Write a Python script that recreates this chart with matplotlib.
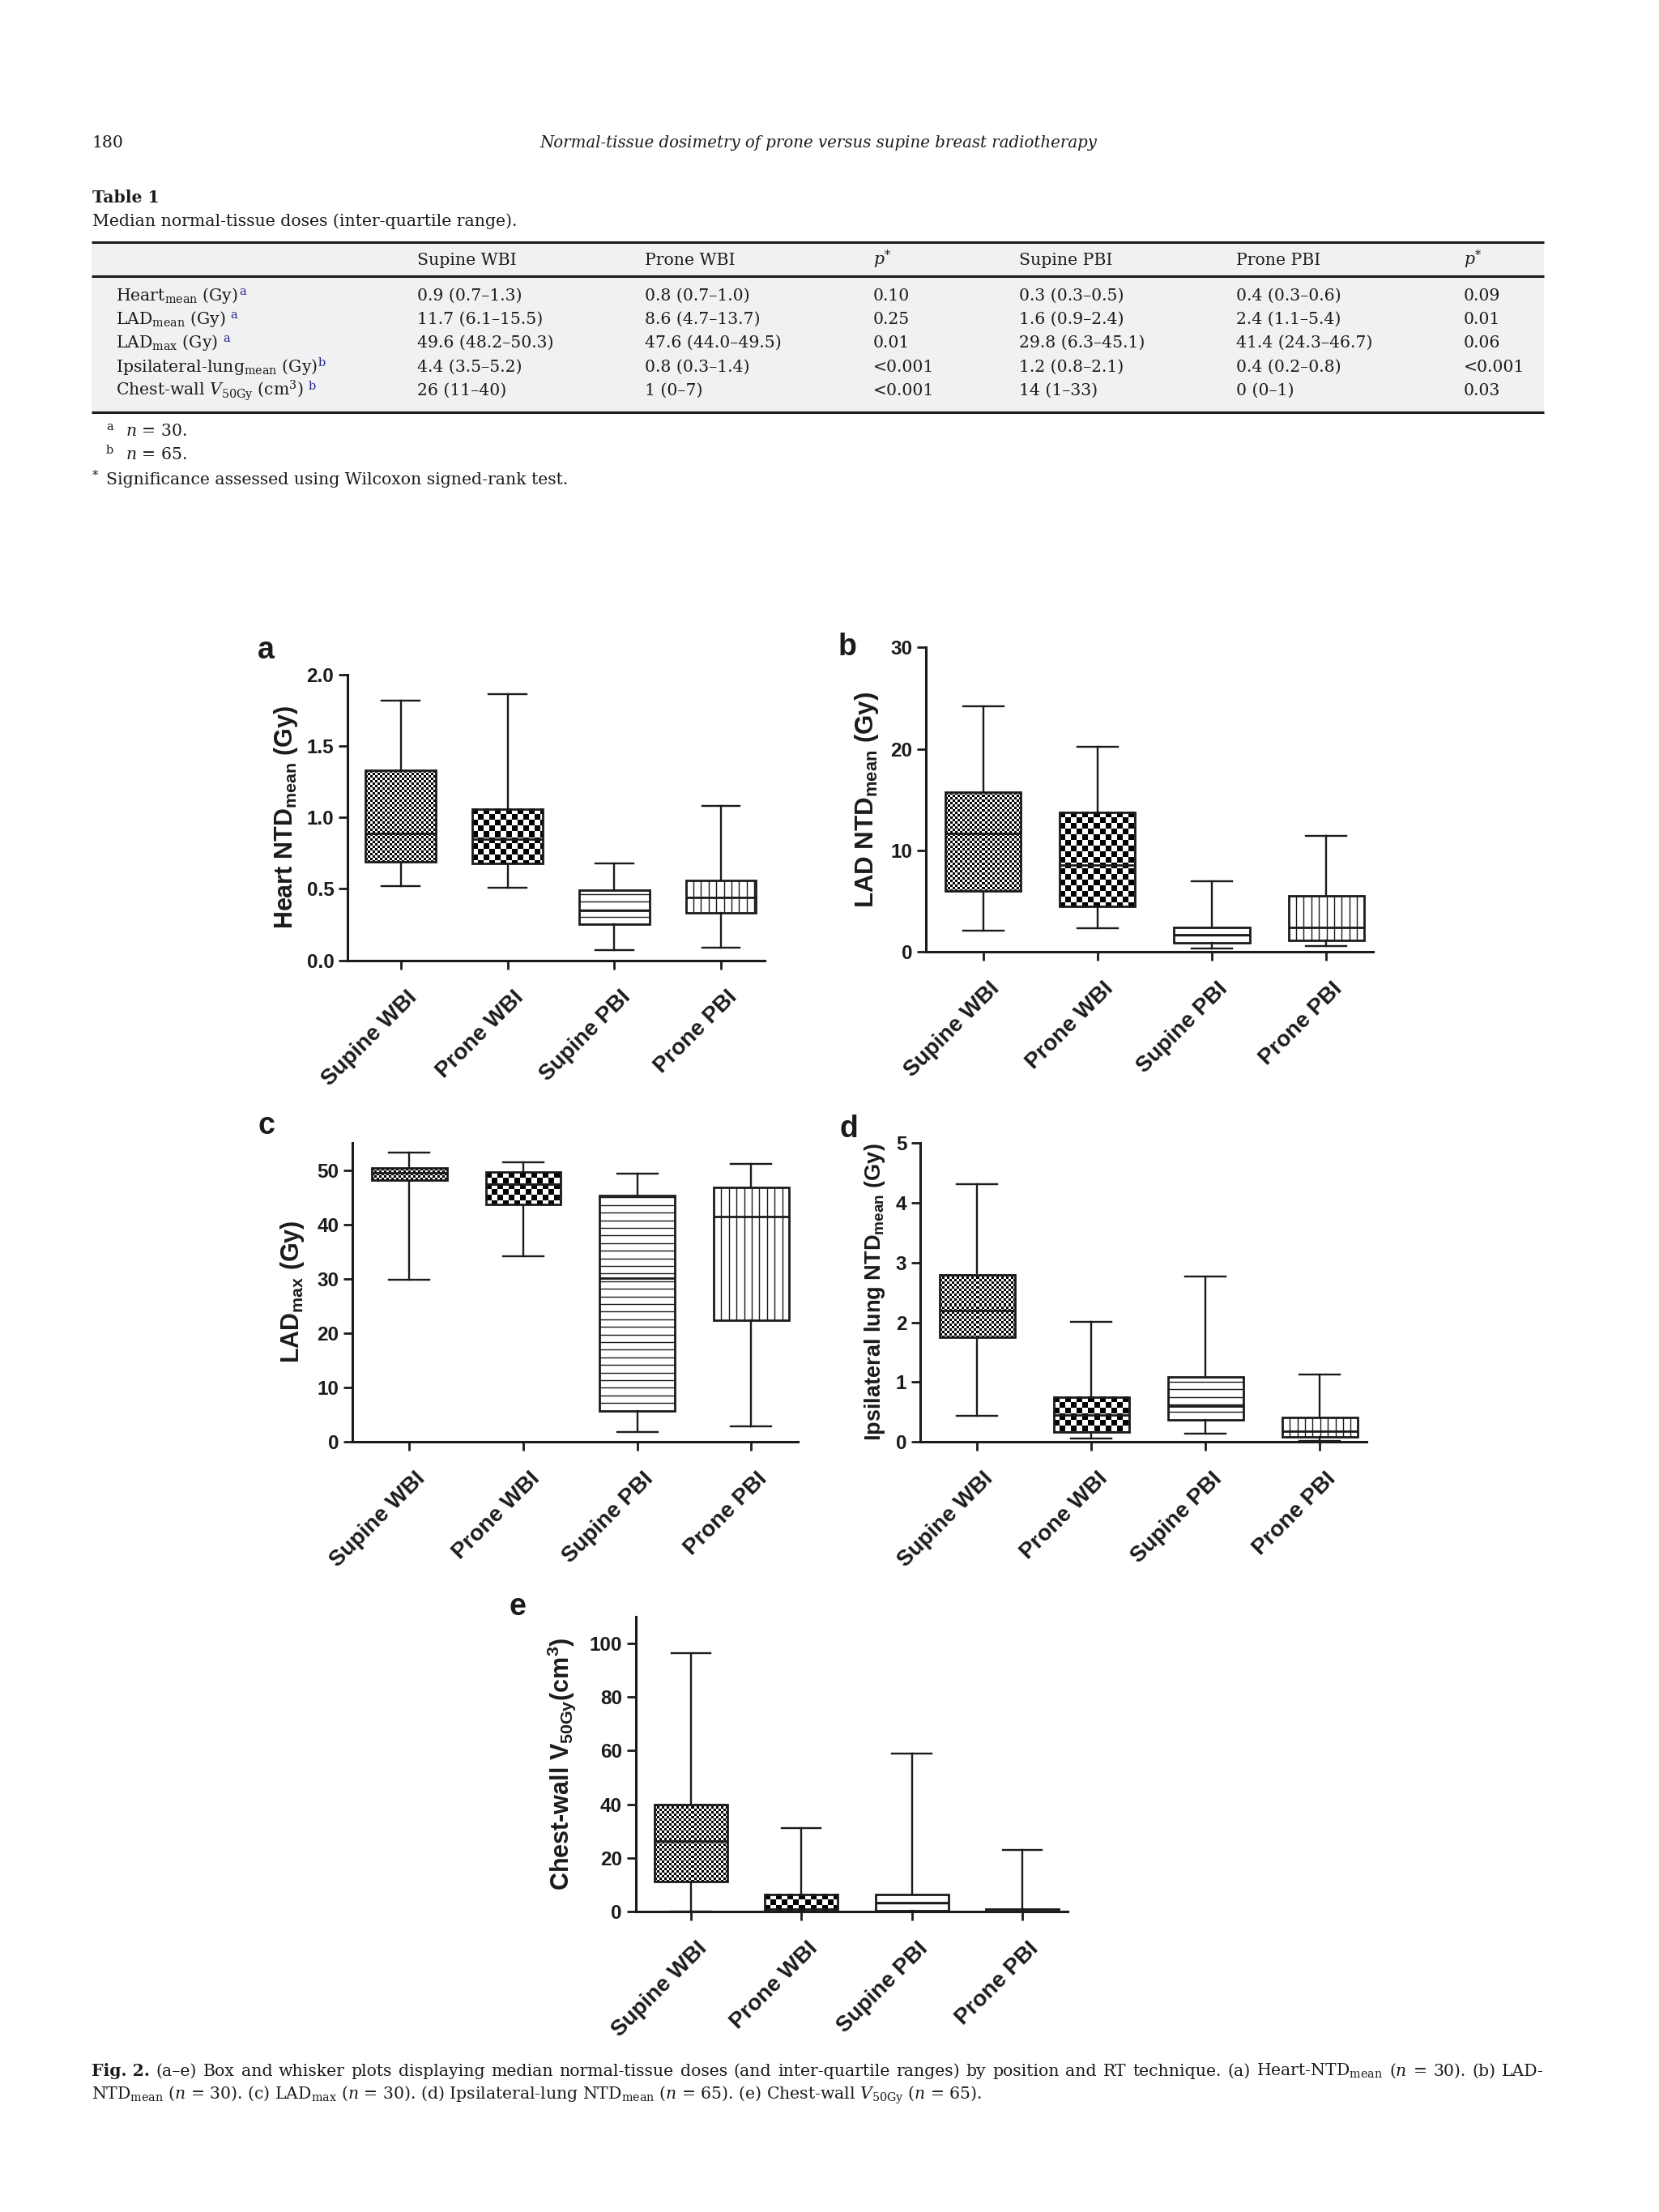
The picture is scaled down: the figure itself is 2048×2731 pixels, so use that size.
import numpy as np
import matplotlib
matplotlib.use('Agg')
import matplotlib.pyplot as plt
from matplotlib.patches import Rectangle
from matplotlib.transforms import ScaledTranslation

W, H = 2048, 2731
INK = '#1c1a1b'
NOTE = '#26268f'

groups = ['Supine WBI', 'Prone WBI', 'Supine PBI', 'Prone PBI']
fills = ['fine', 'coarse', 'hlines', 'vlines']

# box stats: lower whisker, q1, median, q3, upper whisker
heart_lo = [0.52, 0.51, 0.07, 0.09]
heart_q1 = [0.69, 0.68, 0.25, 0.33]
heart_med = [0.89, 0.85, 0.35, 0.44]
heart_q3 = [1.33, 1.06, 0.49, 0.56]
heart_hi = [1.82, 1.86, 0.68, 1.08]

lad_lo = [2.06, 2.29, 0.29, 0.52]
lad_q1 = [5.97, 4.45, 0.86, 1.09]
lad_med = [11.7, 8.55, 1.66, 2.38]
lad_q3 = [15.7, 13.77, 2.41, 5.48]
lad_hi = [24.2, 20.2, 6.94, 11.43]

ladmax_lo = [29.9, 34.2, 1.82, 2.78]
ladmax_q1 = [48.2, 43.7, 5.73, 22.4]
ladmax_med = [49.5, 47.4, 30.1, 41.4]
ladmax_q3 = [50.4, 49.6, 45.3, 46.9]
ladmax_hi = [53.2, 51.4, 49.4, 51.1]

lung_lo = [0.43, 0.054, 0.14, 0.02]
lung_q1 = [1.75, 0.156, 0.37, 0.08]
lung_med = [2.20, 0.45, 0.59, 0.17]
lung_q3 = [2.80, 0.74, 1.09, 0.41]
lung_hi = [4.31, 2.01, 2.77, 1.13]

cw_lo = [0, 0, 0, 0]
cw_q1 = [11.2, 0, 0.3, 0]
cw_med = [26.4, 1.0, 3.5, 0]
cw_q3 = [39.9, 6.5, 6.3, 1.1]
cw_hi = [96.2, 31.2, 59.0, 23.1]

# table 1
col_heads = ['Supine WBI', 'Prone WBI', r'$p^{*}$', 'Supine PBI', 'Prone PBI', r'$p^{*}$']
row_labels = [r'Heart$_{\mathregular{mean}}$ (Gy)',
              r'LAD$_{\mathregular{mean}}$ (Gy)',
              r'LAD$_{\mathregular{max}}$ (Gy)',
              r'Ipsilateral-lung$_{\mathregular{mean}}$ (Gy)',
              r'Chest-wall $V_{\mathregular{50Gy}}$ (cm$^{\mathregular{3}}$)']
row_notes = ['a', 'a', 'a', 'b', 'b']
note_gap = [1, 6, 6, 1, 6]
supine_wbi = ['0.9 (0.7–1.3)', '11.7 (6.1–15.5)', '49.6 (48.2–50.3)', '4.4 (3.5–5.2)', '26 (11–40)']
prone_wbi = ['0.8 (0.7–1.0)', '8.6 (4.7–13.7)', '47.6 (44.0–49.5)', '0.8 (0.3–1.4)', '1 (0–7)']
p_wbi = ['0.10', '0.25', '0.01', '<0.001', '<0.001']
supine_pbi = ['0.3 (0.3–0.5)', '1.6 (0.9–2.4)', '29.8 (6.3–45.1)', '1.2 (0.8–2.1)', '14 (1–33)']
prone_pbi = ['0.4 (0.3–0.6)', '2.4 (1.1–5.4)', '41.4 (24.3–46.7)', '0.4 (0.2–0.8)', '0 (0–1)']
p_pbi = ['0.09', '0.01', '0.06', '<0.001', '0.03']

caption_1 = (r'(a–e) Box and whisker plots displaying median normal-tissue doses (and inter-quartile ranges) '
             r'by position and RT technique. (a) Heart-NTD$_{\mathregular{mean}}$ ($n$ = 30). (b) LAD-')
caption_2 = (r'NTD$_{\mathregular{mean}}$ ($n$ = 30). (c) LAD$_{\mathregular{max}}$ ($n$ = 30). '
             r'(d) Ipsilateral-lung NTD$_{\mathregular{mean}}$ ($n$ = 65). '
             r'(e) Chest-wall $V_{\mathregular{50Gy}}$ ($n$ = 65).')

plt.rcParams['font.family'] = 'Liberation Sans'
fig = plt.figure(figsize=(W / 100, H / 100), dpi=100)
rend = fig.canvas.get_renderer()

# page layer in pixel units, y going down
page = fig.add_axes([0, 0, 1, 1])
page.set_xlim(0, W)
page.set_ylim(H, 0)
page.axis('off')

serif = dict(family='DejaVu Serif', fontsize=14.7, color=INK, math_fontfamily='dejavuserif', va='baseline')


def sup_after(t, gap, y, s, color=INK):
    bb = t.get_window_extent(rend)
    page.text(bb.x1 + gap, y - 7, s, family='DejaVu Serif', fontsize=10.5, color=color, va='baseline')


def justified(x0, x1, y, line):
    # spread the words so the line fills the column, like the journal does
    words = line.split(' ')
    items = [page.text(0, y, w, **serif) for w in words]
    widths = [t.get_window_extent(rend).width for t in items]
    gap = (x1 - x0 - sum(widths)) / (len(words) - 1)
    x = x0
    for t, w in zip(items, widths):
        t.set_x(x)
        x += w + gap


page.text(114, 182, '180', **serif)
page.text(1010, 182, 'Normal-tissue dosimetry of prone versus supine breast radiotherapy',
          ha='center', style='italic', **dict(serif, fontsize=14.2))
page.text(114, 250, 'Table 1', weight='bold', **serif)
page.text(114, 279, 'Median normal-tissue doses (inter-quartile range).', **serif)

page.add_patch(Rectangle((113, 299), 1793, 210, color='#f1f1f3', lw=0))
page.hlines([299, 341, 509], 113, 1906, color=INK, lw=2.2)

col_x = [515, 796, 1078, 1258, 1526, 1807]
for x, head in zip(col_x, col_heads):
    page.text(x, 327, head, **serif)

row_y = [371, 400, 429, 459, 488]
cols = [supine_wbi, prone_wbi, p_wbi, supine_pbi, prone_pbi, p_pbi]
for i, y in enumerate(row_y):
    t = page.text(143, y, row_labels[i], **serif)
    sup_after(t, note_gap[i], y, row_notes[i], NOTE)
    for x, col in zip(col_x, cols):
        page.text(x, y, col[i], **serif)

page.text(131, 531, 'a', family='DejaVu Serif', fontsize=10.5, color=INK, va='baseline')
page.text(155, 538, r'$n$ = 30.', **serif)
page.text(131, 560, 'b', family='DejaVu Serif', fontsize=10.5, color=INK, va='baseline')
page.text(155, 567, r'$n$ = 65.', **serif)
page.text(114, 591, '*', family='DejaVu Serif', fontsize=10.5, color=INK, va='baseline')
page.text(131, 598, 'Significance assessed using Wilcoxon signed-rank test.', **serif)

t = page.text(113, 2563, 'Fig. 2.', weight='bold', **serif)
bb = t.get_window_extent(rend)
justified(bb.x1 + 8, 1906, 2563, caption_1)
page.text(113, 2592, caption_2, **serif)

CELL = {'fine': 3, 'coarse': 7}
LINE_STEP = 9.4


def draw_panel(rect, ymax, ticks, lo, q1, med, q3, hi, ylabel, lsize, lab_xy, letter, let_xy):
    l, r, b, tp = rect
    ax = fig.add_axes([l / W, 1 - b / H, (r - l) / W, (b - tp) / H])
    ax.set_xlim(-0.5, 3.41)
    ax.set_ylim(0, ymax)
    ax.patch.set_alpha(0)
    stats = [dict(whislo=a, q1=c, med=m, q3=d, whishi=e)
             for a, c, m, d, e in zip(lo, q1, med, q3, hi)]
    ax.bxp(stats, positions=range(4), widths=0.66, capwidths=0.355, showfliers=False,
           patch_artist=True, manage_ticks=False,
           boxprops=dict(facecolor='none', edgecolor=INK, linewidth=2.0, zorder=4),
           whiskerprops=dict(color=INK, linewidth=1.7),
           capprops=dict(color=INK, linewidth=1.7),
           medianprops=dict(color=INK, linewidth=2.0, zorder=5))

    inv = ax.transData.inverted()
    for i, kind in enumerate(fills):
        x0, x1 = i - 0.33, i + 0.33
        (px0, py0), (px1, py1) = ax.transData.transform([(x0, q1[i]), (x1, q3[i])])
        if py1 - py0 < 1:
            continue
        if kind in CELL:
            c = CELL[kind]
            nw, nh = int(round(px1 - px0)), int(round(py1 - py0))
            yy, xx = np.mgrid[0:nh, 0:nw]
            board = (xx // c + yy // c) % 2
            ax.imshow(board, extent=(x0, x1, q1[i], q3[i]), origin='upper', cmap='gray',
                      vmin=0, vmax=1, interpolation='nearest', aspect='auto', zorder=2)
        elif kind == 'hlines':
            ys = np.arange(py0 + LINE_STEP, py1 - 2, LINE_STEP)
            yd = inv.transform(np.column_stack([np.full_like(ys, px0), ys]))[:, 1]
            ax.hlines(yd, x0, x1, color=INK, lw=1.0, zorder=3)
        else:
            xs = np.arange(px0 + LINE_STEP, px1 - 2, LINE_STEP)
            xd = inv.transform(np.column_stack([xs, np.full_like(xs, py0)]))[:, 0]
            ax.vlines(xd, q1[i], q3[i], color=INK, lw=1.0, zorder=3)

    ax.set_xlim(-0.5, 3.41)
    ax.set_ylim(0, ymax)
    for side in ['top', 'right']:
        ax.spines[side].set_visible(False)
    for side in ['left', 'bottom']:
        ax.spines[side].set_linewidth(2.2)
        ax.spines[side].set_color(INK)
    ax.set_yticks(ticks)
    ax.set_xticks(range(4))
    ax.set_xticklabels(groups, rotation=45, ha='right', va='center', rotation_mode='anchor',
                       fontsize=20, fontweight='bold', color=INK)
    ax.tick_params(axis='both', direction='out', length=8, width=2, color=INK)
    ax.tick_params(axis='y', labelsize=17.5, pad=4, labelcolor=INK)
    ax.tick_params(axis='x', pad=22)
    for tl in ax.get_yticklabels():
        tl.set_fontweight('bold')
    shift = ScaledTranslation(16 / 100, 0, fig.dpi_scale_trans)
    for tl in ax.get_xticklabels():
        tl.set_transform(tl.get_transform() + shift)

    page.text(lab_xy[0], lab_xy[1], ylabel, rotation=90, ha='center', va='center',
              fontsize=lsize, fontweight='bold', color=INK)
    page.text(let_xy[0], let_xy[1], letter, ha='left', va='baseline',
              fontsize=27, fontweight='bold', color=INK)
    return ax


draw_panel((429, 944, 1185.6, 832.8), 2.0, np.arange(0, 2.01, 0.5),
           heart_lo, heart_q1, heart_med, heart_q3, heart_hi,
           r'Heart NTD$_{\mathregular{mean}}$ (Gy)', 22, (353, 1009), 'a', (318, 813))
draw_panel((1143, 1695, 1175, 799.4), 30, np.arange(0, 31, 10),
           lad_lo, lad_q1, lad_med, lad_q3, lad_hi,
           r'LAD NTD$_{\mathregular{mean}}$ (Gy)', 22.5, (1070, 987), 'b', (1035, 809))
draw_panel((435, 985, 1780, 1411.2), 55, np.arange(0, 51, 10),
           ladmax_lo, ladmax_q1, ladmax_med, ladmax_q3, ladmax_hi,
           r'LAD$_{\mathregular{max}}$ (Gy)', 22, (361, 1595), 'c', (319, 1400))
draw_panel((1136, 1687, 1780, 1411.3), 5, np.arange(0, 6, 1),
           lung_lo, lung_q1, lung_med, lung_q3, lung_hi,
           r'Ipsilateral lung NTD$_{\mathregular{mean}}$ (Gy)', 19.5, (1080, 1595), 'd', (1036, 1404))
draw_panel((784.5, 1318, 2360.3, 1995.6), 110, np.arange(0, 101, 20),
           cw_lo, cw_q1, cw_med, cw_q3, cw_hi,
           r'Chest-wall V$_{\mathregular{50Gy}}$(cm$^{\mathregular{3}}$)', 22, (693, 2178), 'e', (629, 1994))

fig.savefig('out.png', dpi=100, facecolor='white')
